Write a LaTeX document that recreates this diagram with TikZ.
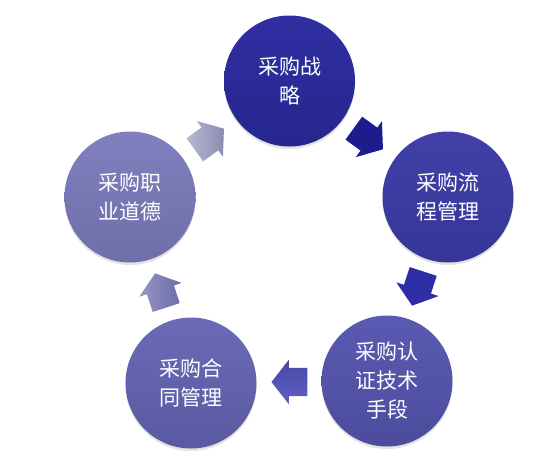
\documentclass[tikz,border=0pt]{standalone}
\usepackage{fontspec}
\newfontfamily\cjk{Noto Sans CJK SC}
\usetikzlibrary{shapes.arrows,shadows,calc}
\definecolor{cAt}{RGB}{47,47,163}\definecolor{cAb}{RGB}{38,38,142}
\definecolor{cBt}{RGB}{64,64,168}\definecolor{cBb}{RGB}{54,54,152}
\definecolor{cCt}{RGB}{90,90,178}\definecolor{cCb}{RGB}{76,76,158}
\definecolor{cDt}{RGB}{106,106,182}\definecolor{cDb}{RGB}{90,90,162}
\definecolor{cEt}{RGB}{128,128,190}\definecolor{cEb}{RGB}{110,110,170}
\begin{document}
\begin{tikzpicture}[x=1pt,y=-1pt,
  bub/.style={circle,minimum size=131pt,inner sep=0pt,text=white,
    font=\cjk\fontsize{21}{29}\selectfont,align=center,
    drop shadow={shadow xshift=0pt,shadow yshift=-2.5pt,opacity=0.22}},
  arr/.style={single arrow,minimum height=36pt,minimum width=44pt,inner xsep=0pt,inner ysep=14pt,
    single arrow head extend=8pt,single arrow tip angle=104,draw=none}]
\useasboundingbox (0,0) rectangle (553,471);
\node[bub,top color=cAt,bottom color=cAb] (c1) at (289.5,81) {采购战\\略};
\node[bub,top color=cBt,bottom color=cBb] (c2) at (448,197) {采购流\\程管理};
\node[bub,top color=cCt,bottom color=cCb] (c3) at (387,381) {采购认\\证技术\\手段};
\node[bub,top color=cDt,bottom color=cDb] (c4) at (191,383) {采购合\\同管理};
\node[bub,top color=cEt,bottom color=cEb] (c5) at (130,197) {采购职\\业道德};
\node[arr,fill={rgb,255:red,28;green,28;blue,140},rotate=-36,xshift=-6pt] (a1) at ($(c1)!0.5!(c2)$) {};
\node[arr,fill={rgb,255:red,45;green,45;blue,165},rotate=-108,xshift=-6pt] (a2) at ($(c2)!0.5!(c3)$) {};
\node[arr,left color={rgb,255:red,72;green,72;blue,170},right color={rgb,255:red,96;green,96;blue,192},shading angle=0,rotate=180,xshift=-6pt] (a3) at ($(c3)!0.5!(c4)$) {};
\node[arr,left color={rgb,255:red,150;green,150;blue,200},right color={rgb,255:red,108;green,108;blue,168},rotate=108,xshift=-6pt] (a4) at ($(c4)!0.5!(c5)$) {};
\node[arr,left color={rgb,255:red,184;green,184;blue,208},right color={rgb,255:red,140;green,140;blue,178},rotate=36,xshift=-6pt] (a5) at ($(c5)!0.5!(c1)$) {};
\end{tikzpicture}
\end{document}
